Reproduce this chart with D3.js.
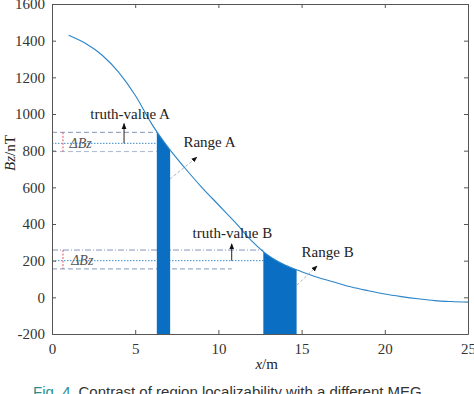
<!DOCTYPE html>
<html>
<head>
<meta charset="utf-8">
<script src="https://cdn.jsdelivr.net/npm/d3@7"></script>
<style>
body { margin: 0; background: #fff; }
svg { display: block; }
</style>
</head>
<body>
<div id="chart"></div>
<script>
// curve samples (x in m, Bz in nT)
var xs = [1, 2, 3, 4, 5, 6, 7, 8, 9, 10, 11, 12, 13, 14, 15, 16, 17, 18, 19, 20, 21, 22, 23, 24, 25];
var bz = [1430, 1386, 1322, 1228, 1102, 945, 815, 704, 600, 505, 410, 308, 228, 176, 140, 108, 82, 56, 36, 18, 4, -8, -18, -23, -26];

var xTicks = [0, 5, 10, 15, 20, 25];
var yTicks = [-200, 0, 200, 400, 600, 800, 1000, 1200, 1400, 1600];

// shaded ranges (x from, x to)
var rangeA = [6.3, 7.1];
var rangeB = [12.7, 14.7];

// reference levels: upper, measured, lower
var levelsA = [900, 840, 795];
var levelsB = [258, 200, 155];

var W = 474, H = 394;
var margin = {left: 52, right: 6, top: 4, bottom: 60};
var serif = "'Liberation Serif', 'Times New Roman', serif";

var svg = d3.select("#chart").append("svg")
    .attr("width", W)
    .attr("height", H);

var x = d3.scaleLinear().domain([0, 25]).range([margin.left, W - margin.right]);
var y = d3.scaleLinear().domain([-200, 1600]).range([H - margin.bottom, margin.top]);

var pts = xs.map(function (d, i) { return [d, bz[i]]; });

var defs = svg.append("defs");
[rangeA, rangeB].forEach(function (r, i) {
    defs.append("clipPath").attr("id", "clip" + i)
        .append("rect")
        .attr("x", x(r[0]))
        .attr("y", margin.top)
        .attr("width", x(r[1]) - x(r[0]))
        .attr("height", y(-200) - margin.top);
});

// helper lines
function hline(v, x0, x1, color, dash) {
    svg.append("line")
        .attr("x1", x(x0)).attr("x2", x(x1))
        .attr("y1", y(v)).attr("y2", y(v))
        .attr("stroke", color)
        .attr("stroke-width", 1)
        .attr("stroke-dasharray", dash);
}

// A levels
hline(levelsA[0], 0, rangeA[0], "#8497b8", "5,3");
hline(levelsA[1], 0, rangeA[0], "#3d8fd0", "1.5,1.5");
hline(levelsA[2], 0, rangeA[0], "#a9b8d0", "5,3");
// B levels
hline(levelsB[0], 0, rangeB[0], "#8497b8", "6,2,1,2");
hline(levelsB[1], 0, rangeB[0], "#3d8fd0", "1.5,1.5");
hline(levelsB[2], 0, 10.8, "#8497b8", "5,3");

// red spread markers
[levelsA, levelsB].forEach(function (lv) {
    svg.append("line")
        .attr("x1", x(0.66)).attr("x2", x(0.66))
        .attr("y1", y(lv[0])).attr("y2", y(lv[2]))
        .attr("stroke", "#e0506a")
        .attr("stroke-width", 1)
        .attr("stroke-dasharray", "2,1.5");
});

// shaded areas under the curve
var area = d3.area()
    .x(function (d) { return x(d[0]); })
    .y0(y(-200))
    .y1(function (d) { return y(d[1]); })
    .curve(d3.curveMonotoneX);

[0, 1].forEach(function (i) {
    svg.append("path")
        .datum(pts)
        .attr("d", area)
        .attr("fill", "#0a6fc2")
        .attr("clip-path", "url(#clip" + i + ")");
});

// curve
var line = d3.line()
    .x(function (d) { return x(d[0]); })
    .y(function (d) { return y(d[1]); })
    .curve(d3.curveMonotoneX);

svg.append("path")
    .datum(pts)
    .attr("d", line)
    .attr("fill", "none")
    .attr("stroke", "#2a84c8")
    .attr("stroke-width", 1.1);

// arrows
defs.append("marker")
    .attr("id", "head")
    .attr("viewBox", "0 0 10 10")
    .attr("refX", 9).attr("refY", 5)
    .attr("markerWidth", 6).attr("markerHeight", 6)
    .attr("markerUnits", "userSpaceOnUse")
    .attr("orient", "auto")
    .append("path")
    .attr("d", "M0,1 L10,5 L0,9 Z")
    .attr("fill", "#111");

function arrow(x0, y0, x1, y1, color, dash) {
    svg.append("line")
        .attr("x1", x(x0)).attr("y1", y(y0))
        .attr("x2", x(x1)).attr("y2", y(y1))
        .attr("stroke", color)
        .attr("stroke-width", 1)
        .attr("stroke-dasharray", dash || null)
        .attr("marker-end", "url(#head)");
}
arrow(4.33, levelsA[1], 4.33, 948, "#222");
arrow(10.8, levelsB[1], 10.8, 292, "#222");
arrow(7.09, 645, 8.71, 765, "#aab4c4", "3,2");
arrow(14.72, 67, 15.93, 171, "#aab4c4", "3,2");

// labels
function label(txt, xv, yv, size, italic) {
    return svg.append("text")
        .attr("x", x(xv)).attr("y", y(yv))
        .style("font-family", serif)
        .style("font-size", size + "px")
        .style("font-style", italic ? "italic" : "normal")
        .style("fill", "#222")
        .attr("dominant-baseline", "central")
        .text(txt);
}
label("truth-value A", 2.3, 1000, 15);
label("Range A", 7.9, 845, 15);
label("truth-value B", 8.45, 350, 15);
label("Range B", 15.0, 245, 15);
label("\u0394Bz", 1.05, levelsA[1], 14, true).style("fill", "#555");
label("\u0394Bz", 1.15, levelsB[1], 14, true).style("fill", "#555");

// axes box
var axisColor = "#555";
var xAxis = svg.append("g")
    .attr("transform", "translate(0," + y(-200) + ")")
    .call(d3.axisBottom(x).tickValues(xTicks).tickSizeInner(-4).tickSizeOuter(0).tickPadding(9)
        .tickFormat(function (d) { return String(d); }));
var yAxis = svg.append("g")
    .attr("transform", "translate(" + x(0) + ",0)")
    .call(d3.axisLeft(y).tickValues(yTicks).tickSizeInner(-4).tickSizeOuter(0).tickPadding(7)
        .tickFormat(function (d) { return String(d); }));
var xTop = svg.append("g")
    .attr("transform", "translate(0," + y(1600) + ")")
    .call(d3.axisTop(x).tickValues(xTicks).tickSizeInner(-4).tickSizeOuter(0).tickFormat(""));
var yRight = svg.append("g")
    .attr("transform", "translate(" + x(25) + ",0)")
    .call(d3.axisRight(y).tickValues(yTicks).tickSizeInner(-4).tickSizeOuter(0).tickFormat(""));

[xAxis, yAxis, xTop, yRight].forEach(function (g) {
    g.selectAll("path, line").attr("stroke", axisColor);
    g.selectAll("text")
        .style("font-family", serif)
        .style("font-size", "15px")
        .style("fill", "#333");
});

// axis titles
var xt = svg.append("text")
    .attr("x", x(12.9)).attr("y", 369)
    .style("font-family", serif)
    .style("font-size", "15px")
    .style("fill", "#222")
    .attr("text-anchor", "middle");
xt.append("tspan").style("font-style", "italic").text("x");
xt.append("tspan").text("/m");

var yt = svg.append("text")
    .attr("transform", "translate(15,153) rotate(-90)")
    .style("font-family", serif)
    .style("font-size", "15px")
    .style("fill", "#222")
    .attr("text-anchor", "middle");
yt.append("tspan").style("font-style", "italic").text("Bz");
yt.append("tspan").text("/nT");

// caption (cut off by the frame)
var cap = svg.append("text")
    .attr("x", 33).attr("y", 397)
    .style("font-family", "'Liberation Sans', Arial, sans-serif")
    .style("font-size", "15px");
cap.append("tspan").style("fill", "#2a8f8f").text("Fig. 4");
cap.append("tspan").attr("dx", 8).style("fill", "#333")
    .text("Contrast of region localizability with a different MEG");
</script>
</body>
</html>
